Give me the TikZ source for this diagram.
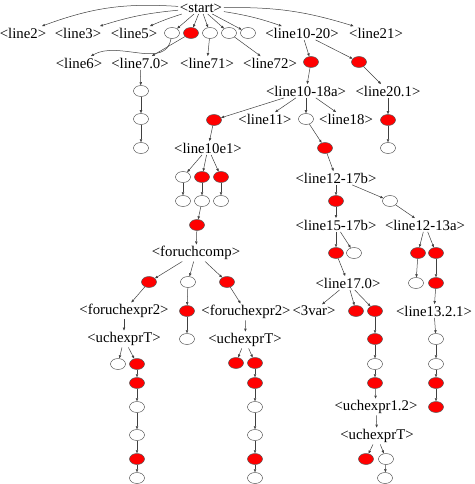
\documentclass[tikz,border=0pt]{standalone}
\usepackage{fontspec}
\setmainfont{Liberation Serif}
\usetikzlibrary{arrows.meta, shapes.geometric}

\begin{document}
\begin{tikzpicture}[x=1pt, y=-1pt,
    lbl/.style={font=\fontsize{14.8}{16}\selectfont, inner sep=1.5pt},
    wnode/.style={ellipse, draw=black!65, fill=white, line width=0.5pt,
                  minimum width=15pt, minimum height=11pt, inner sep=0pt},
    rnode/.style={wnode, fill=red},
    link/.style={-{Triangle[length=3pt, width=2.4pt]}, black!75, line width=0.5pt},
]
\useasboundingbox (0,0) rectangle (474,484);

% ===================== TOP LEVEL =====================
\node[lbl] (start) at (201,8) {<start>};

\node[lbl] (l2) at (23,33) {<line2>};
\node[lbl] (l3) at (78,33) {<line3>};
\node[lbl] (l5) at (134,33) {<line5>};
\node[wnode] (s1) at (172,33) {};
\node[rnode] (s2) at (191,33) {};
\node[wnode] (s3) at (210,33) {};
\node[wnode] (s4) at (229,33) {};
\node[wnode] (s5) at (248,33) {};
\node[lbl] (l1020) at (302,33) {<line10-20>};
\node[lbl] (l21) at (376,33) {<line21>};

\foreach \t/\b in {l2/12, l3/6, l5/3, s1/0, s2/0, s3/0, s4/0, s5/0, l1020/-5, l21/-9} {
    \draw[link] (start) to[bend right=\b] (\t);
}

% ===================== SECOND LEVEL =====================
\node[lbl] (l6) at (79,63) {<line6>};
\node[lbl] (l70) at (140,63) {<line7.0>};
\node[lbl] (l71) at (207,63) {<line71>};
\node[lbl] (l72) at (270,63) {<line72>};
\node[rnode] (m1) at (311,62) {};
\node[rnode] (m2) at (359,62) {};

\draw[link] (s1) to[out=-100, in=30] (l6);

% ===================== LINE7.0 CHAIN =====================
\foreach \i/\y in {1/91, 2/119, 3/148} {
    \node[wnode] (c\i) at (141,\y) {};
}

% ===================== LINE10-20 BRANCH =====================
\node[lbl] (l1018a) at (306,91) {<line10-18a>};
\node[lbl] (l201) at (388,91) {<line20.1>};

\node[rnode] (m3) at (214,120) {};
\node[lbl] (l11) at (265,119) {<line11>};
\node[wnode] (m4) at (306,119) {};
\node[lbl] (l18) at (346,119) {<line18>};
\node[rnode] (n1) at (388,120) {};

\node[lbl] (l10e1) at (208,148) {<line10e1>};
\node[rnode] (m5) at (325,148) {};
\node[wnode] (n2) at (388,148) {};

% line10e1 subtree
\node[wnode] (d1) at (183,177) {};
\node[rnode] (d2) at (202,177) {};
\node[rnode] (d3) at (221,177) {};
\node[wnode] (d4) at (183,201) {};
\node[wnode] (d5) at (202,201) {};
\node[wnode] (d6) at (221,201) {};
\node[rnode] (d7) at (197,225) {};

% line12-17b subtree
\node[lbl] (l1217b) at (336,178) {<line12-17b>};
\node[rnode] (p1) at (336,201) {};
\node[wnode] (p2) at (390,201) {};
\node[lbl] (l1517b) at (336,225) {<line15-17b>};
\node[lbl] (l1213a) at (425,225) {<line12-13a>};
\node[rnode] (p3) at (336,253) {};
\node[wnode] (p4) at (354,253) {};
\node[rnode] (q1) at (418,253) {};
\node[rnode] (q2) at (436,253) {};
\node[lbl] (l170) at (348,283) {<line17.0>};
\node[wnode] (q3) at (416,283) {};
\node[rnode] (q4) at (436,283) {};
\node[lbl] (v3) at (314,311) {<3var>};
\node[rnode] (p5) at (356,311) {};
\node[rnode] (p6) at (375,311) {};
\node[lbl] (l1321) at (434,311) {<line13.2.1>};
\node[rnode] (p7) at (375,339) {};
\node[wnode] (q5) at (436,339) {};
\node[wnode] (p8) at (375,364) {};
\node[wnode] (q6) at (436,364) {};
\node[rnode] (p9) at (375,383) {};
\node[rnode] (q7) at (436,383) {};
\node[lbl] (u12) at (376,407) {<uchexpr1.2>};
\node[rnode] (q8) at (436,407) {};
\node[lbl] (uTC) at (377,436) {<uchexprT>};
\node[rnode] (p10) at (366,459) {};
\node[wnode] (p11) at (386,459) {};
\node[wnode] (p12) at (385,478) {};

% ===================== FORUCHCOMP =====================
\node[lbl] (fcomp) at (196,253) {<foruchcomp>};
\node[rnode] (f1) at (149,282) {};
\node[wnode] (f2) at (188,282) {};
\node[rnode] (f3) at (227,282) {};
\node[lbl] (fexA) at (124,311) {<foruchexpr2>};
\node[rnode] (f4) at (187,311) {};
\node[lbl] (fexB) at (246,312) {<foruchexpr2>};
\node[lbl] (uTA) at (124,339) {<uchexprT>};
\node[wnode] (f5) at (187,339) {};
\node[lbl] (uTB) at (245,340) {<uchexprT>};

\node[wnode] (a1) at (118,364) {};
\node[rnode] (a2) at (137,364) {};
\node[rnode] (b1) at (236,363) {};
\node[rnode] (b2) at (255,363) {};

% two equal chains below uchexprT
\foreach \c/\x in {a/137, b/255} {
    \node[rnode] (\c3) at (\x,383) {};
    \node[wnode] (\c4) at (\x,407) {};
    \node[wnode] (\c5) at (\x,435) {};
    \node[rnode] (\c6) at (\x,459) {};
    \node[wnode] (\c7) at (\x,478) {};
}

% ===================== CONNECTORS =====================
\foreach \a/\b in {s2/l70, s3/l71, s4/l72, l1020/m1, l1020/m2,
                   l70/c1, c1/c2, c2/c3,
                   m1/l1018a, m2/l201, l201/n1, n1/n2,
                   l1018a/m3, l1018a/l11, l1018a/m4, l1018a/l18,
                   m3/l10e1, m4/m5, m5/l1217b,
                   l10e1/d1, l10e1/d2, l10e1/d3, d1/d4, d2/d5, d3/d6, d5/d7, d7/fcomp,
                   l1217b/p1, l1217b/p2, p1/l1517b, p2/l1213a,
                   l1517b/p3, l1517b/p4, l1213a/q1, l1213a/q2,
                   q1/q3, q2/q4, q4/l1321, l1321/q5, q5/q6, q6/q7, q7/q8,
                   p3/l170, l170/v3, l170/p5, l170/p6,
                   p6/p7, p7/p8, p8/p9, p9/u12, u12/uTC, uTC/p10, uTC/p11, p11/p12,
                   fcomp/f1, fcomp/f2, fcomp/f3, f1/fexA, f2/f4, f4/f5, f3/fexB,
                   fexA/uTA, fexB/uTB, uTA/a1, uTA/a2, uTB/b1, uTB/b2,
                   a2/a3, a3/a4, a4/a5, a5/a6, a6/a7,
                   b2/b3, b3/b4, b4/b5, b5/b6, b6/b7} {
    \draw[link] (\a) -- (\b);
}

\end{tikzpicture}
\end{document}
